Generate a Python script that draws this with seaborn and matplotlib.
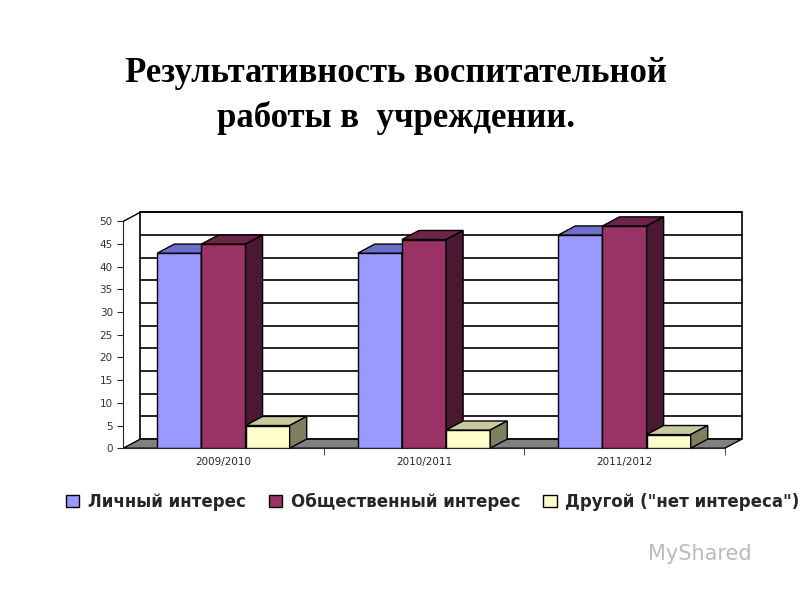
import matplotlib
matplotlib.use("Agg")
import matplotlib.pyplot as plt
import pandas as pd
import seaborn as sns
from matplotlib.patches import Polygon, Rectangle

## values
years = ["2009/2010", "2010/2011", "2011/2012"]
series = ["Личный интерес", "Общественный интерес", 'Другой ("нет интереса")']
personal = [43, 43, 47]
social = [45, 46, 49]
other = [5, 4, 3]

df = pd.DataFrame({
    "year": years * 3,
    "series": [series[0]] * 3 + [series[1]] * 3 + [series[2]] * 3,
    "value": personal + social + other,
})

front = ["#9999FF", "#993366", "#FFFFCC"]
top_c = ["#6f6fcc", "#6e2448", "#c9c9a0"]
side_c = ["#5555a0", "#4a1830", "#808060"]

sns.set_style("white")
plt.rcParams["font.family"] = ["DejaVu Sans"]

fig = plt.figure(figsize=(8, 6), dpi=100)
ax = fig.add_axes([0.154, 0.253, 0.752, 0.378])
sns.barplot(data=df, x="year", y="value", hue="series", palette=front,
            saturation=1, width=0.66, edgecolor="black", linewidth=1, ax=ax, legend=True)

dx, dy = 0.085, 2.0
ax.set_xlim(-0.5, 2.5)
ax.set_ylim(0, 50)

# back wall and grid
for v in range(5, 51, 5):
    ax.plot([-0.5 + dx, 2.5 + dx], [v + dy, v + dy], color="black", lw=1.2,
            zorder=0.5, clip_on=False)
ax.add_patch(Rectangle((-0.5 + dx, dy), 3, 50, fill=False, ec="black", lw=1.2,
                       clip_on=False, zorder=0.5))
ax.plot([-0.5, -0.5 + dx], [50, 50 + dy], color="black", lw=1, clip_on=False)
# floor
ax.add_patch(Polygon([(-0.5, 0), (2.5, 0), (2.5 + dx, dy), (-0.5 + dx, dy)],
                     closed=True, fc="#808080", ec="black", lw=1,
                     clip_on=False, zorder=0.6))

# 3d faces for bars
bars = sorted([p for p in ax.patches if isinstance(p, Rectangle) and p.get_width() < 0.5
               and p.get_height() > 0], key=lambda p: p.get_x())
for i, b in enumerate(bars):
    k = i % 3
    x0, w, h = b.get_x(), b.get_width(), b.get_height()
    z = 2 + i
    b.set_zorder(z)
    ax.add_patch(Polygon([(x0, h), (x0 + w, h), (x0 + w + dx, h + dy), (x0 + dx, h + dy)],
                         closed=True, fc=top_c[k], ec="black", lw=1, zorder=z, clip_on=False))
    ax.add_patch(Polygon([(x0 + w, 0), (x0 + w + dx, dy), (x0 + w + dx, h + dy), (x0 + w, h)],
                         closed=True, fc=side_c[k], ec="black", lw=1, zorder=z, clip_on=False))

for s in ["top", "right"]:
    ax.spines[s].set_visible(False)
ax.set_xlabel("")
ax.set_ylabel("")
ax.set_yticks(range(0, 51, 5))
ax.tick_params(axis="y", labelsize=7.5, length=4, left=True, direction="out")
ax.tick_params(axis="x", labelsize=7.5, length=0, pad=6)
ax.set_xticks([0.5, 1.5, 2.5], minor=True)
ax.tick_params(axis="x", which="minor", length=5, bottom=True)
ax.set_yticklabels([str(v) for v in range(0, 51, 5)], color="#333333")

handles, labels = ax.get_legend_handles_labels()
ax.legend(handles, labels, loc="upper left", bbox_to_anchor=(-0.12, -0.13),
          ncol=3, frameon=False, handlelength=0.8, handleheight=0.8,
          columnspacing=1.4, handletextpad=0.5,
          prop={"weight": "bold", "size": 12})

fig.text(0.495, 0.84, "Результативность воспитательной\nработы в  учреждении.",
         ha="center", va="center", fontsize=25, fontweight="bold", color="black",
         family="Liberation Serif", linespacing=1.45)
fig.text(0.81, 0.077, "MyShared", ha="left", va="center", fontsize=15,
         color="#bbbbbb")

fig.savefig("out.png", dpi=100)
